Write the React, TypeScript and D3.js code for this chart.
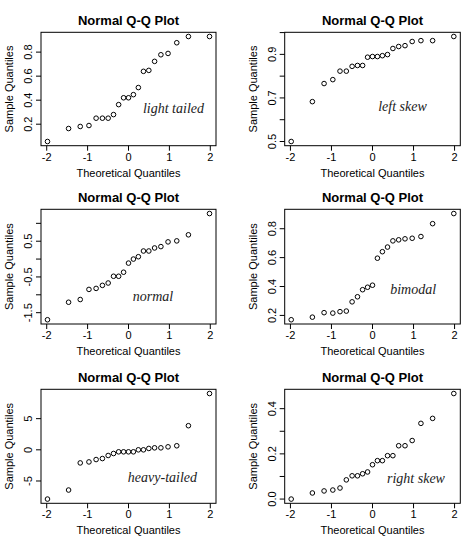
import React from 'react'
import * as d3 from 'd3'

// theoretical normal quantiles for n = 21 (shared by every panel)
const theoretical = [-1.981, -1.465, -1.18, -0.967, -0.792, -0.638, -0.497, -0.366, -0.241, -0.12, 0,
    0.12, 0.241, 0.366, 0.497, 0.638, 0.792, 0.967, 1.18, 1.465, 1.981]

const lightTailed = [0.056, 0.164, 0.181, 0.189, 0.25, 0.25, 0.25, 0.28, 0.363, 0.42, 0.42,
    0.446, 0.505, 0.64, 0.648, 0.723, 0.778, 0.789, 0.878, 0.93, 0.93]
const leftSkew = [0.5, 0.683, 0.766, 0.784, 0.823, 0.823, 0.845, 0.849, 0.849, 0.887, 0.89,
    0.89, 0.894, 0.899, 0.927, 0.936, 0.94, 0.959, 0.963, 0.963, 0.982]
const normal = [-1.698, -1.208, -1.132, -0.849, -0.821, -0.736, -0.67, -0.481, -0.481, -0.368, -0.113,
    0, 0.066, 0.226, 0.226, 0.311, 0.349, 0.481, 0.509, 0.679, 1.274]
const bimodal = [0.17, 0.188, 0.219, 0.216, 0.226, 0.23, 0.294, 0.329, 0.378, 0.395, 0.409,
    0.596, 0.641, 0.673, 0.716, 0.723, 0.73, 0.734, 0.746, 0.835, 0.905]
const heavyTailed = [-7.9, -6.45, -2.1, -1.94, -1.56, -1.4, -0.91, -0.59, -0.32, -0.32, -0.32,
    -0.32, 0, 0, 0.22, 0.32, 0.32, 0.48, 0.65, 3.87, 9.03]
const rightSkew = [0, 0.027, 0.036, 0.04, 0.049, 0.085, 0.103, 0.103, 0.112, 0.12, 0.152,
    0.17, 0.17, 0.192, 0.192, 0.236, 0.236, 0.259, 0.335, 0.357, 0.467]

const samples = [lightTailed, leftSkew, normal, bimodal, heavyTailed, rightSkew]
const notes = ["light tailed", "left skew", "normal", "bimodal", "heavy-tailed", "right skew"]
const noteX = [1.1, 0.73, 0.6, 0.99, 0.83, 1.06]
const noteY = [0.333, 0.66, -1.047, 0.376, -4.41, 0.089]

const xTicks = [-2, -1, 0, 1, 2]
const yTicks = [
    [0.2, 0.4, 0.6, 0.8],
    [0.5, 0.6, 0.7, 0.8, 0.9, 1.0],
    [-1.5, -1, -0.5, 0, 0.5, 1],
    [0.2, 0.4, 0.6, 0.8],
    [-5, 0, 5],
    [0, 0.1, 0.2, 0.3, 0.4],
]
const yTickLabels = [
    ["0.2", "0.4", "0.6", "0.8"],
    ["0.5", "", "0.7", "", "0.9", ""],
    ["-1.5", "", "-0.5", "", "0.5", ""],
    ["0.2", "0.4", "0.6", "0.8"],
    ["-5", "0", "5"],
    ["0.0", "", "0.2", "", "0.4"],
]

const title = "Normal Q-Q Plot"
const xLabel = "Theoretical Quantiles"
const yLabel = "Sample Quantiles"

// plot box layout (pixels)
const colLeft = [41, 284.7]
const colRight = [216, 460.3]
const rowTop = [32.3, 209.3, 389.3]
const rowBottom = [145.7, 324, 503.3]

const sans = "'Liberation Sans', Arial, sans-serif"

function Panel({ i }: { i: number }) {
    const left = colLeft[i % 2], right = colRight[i % 2]
    const top = rowTop[Math.floor(i / 2)], bottom = rowBottom[Math.floor(i / 2)]
    const ys = samples[i]

    // R-style 4% range extension
    const xMin = d3.min(theoretical)!, xMax = d3.max(theoretical)!
    const xPad = (xMax - xMin) * 0.04
    const x = d3.scaleLinear().domain([xMin - xPad, xMax + xPad]).range([left, right])
    const yMin = d3.min(ys)!, yMax = d3.max(ys)!
    const yPad = (yMax - yMin) * 0.04
    const y = d3.scaleLinear().domain([yMin - yPad, yMax + yPad]).range([bottom, top])

    const midX = (left + right) / 2
    const midY = (top + bottom) / 2

    return (
        <g>
            <text x={midX} y={top - 12} textAnchor="middle" dominantBaseline="central"
                fontFamily={sans} fontWeight="bold" fontSize={13}>{title}</text>
            <rect x={left} y={top} width={right - left} height={bottom - top} fill="none" stroke="#000" strokeWidth={1} />
            {xTicks.map(t => (
                <g key={t}>
                    <line x1={x(t)} x2={x(t)} y1={bottom} y2={bottom + 5} stroke="#000" />
                    <text x={x(t)} y={bottom + 11} textAnchor="middle" dominantBaseline="central"
                        fontFamily={sans} fontSize={11}>{t}</text>
                </g>
            ))}
            {yTicks[i].map((t, k) => (
                <g key={t}>
                    <line x1={left - 5} x2={left} y1={y(t)} y2={y(t)} stroke="#000" />
                    <text transform={`translate(${left - 13},${y(t)}) rotate(-90)`} textAnchor="middle"
                        dominantBaseline="central" fontFamily={sans} fontSize={11}>{yTickLabels[i][k]}</text>
                </g>
            ))}
            <text x={midX} y={bottom + 27} textAnchor="middle" dominantBaseline="central"
                fontFamily={sans} fontSize={11}>{xLabel}</text>
            <text transform={`translate(${left - 32},${midY}) rotate(-90)`} textAnchor="middle"
                dominantBaseline="central" fontFamily={sans} fontSize={11}>{yLabel}</text>
            {ys.map((v, k) => (
                <circle key={k} cx={x(theoretical[k])} cy={y(v)} r={2.3} fill="none" stroke="#000" strokeWidth={1} />
            ))}
            <text x={x(noteX[i])} y={y(noteY[i])} textAnchor="middle" dominantBaseline="central"
                fontFamily="'Liberation Serif', 'Times New Roman', serif" fontStyle="italic" fontSize={14}
                fill="#222">{notes[i]}</text>
        </g>
    )
}

export default function App() {
    return (
        <svg width={475} height={549} viewBox="0 0 475 549"
            style={{ position: 'absolute', left: 0, top: 0, background: '#fff' }}>
            <rect width={475} height={549} fill="#fff" />
            {samples.map((_, i) => <Panel key={i} i={i} />)}
        </svg>
    )
}
